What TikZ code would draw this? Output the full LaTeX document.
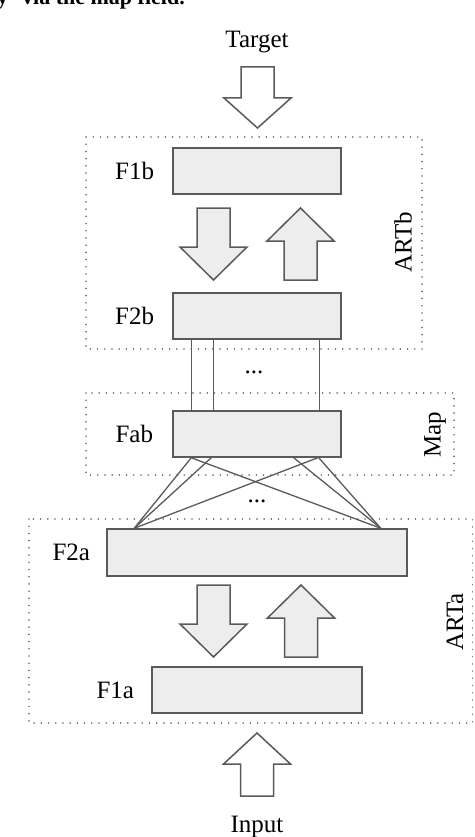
\documentclass[tikz,border=0pt]{standalone}
\usepackage{fontspec}
\setmainfont{Liberation Serif}
\usetikzlibrary{calc}
\definecolor{boxfill}{HTML}{EDEDED}
\definecolor{edgec}{HTML}{5A5A5A}
\definecolor{dotc}{HTML}{6E6E6E}
\newcommand\myblockarrow[5]{%
  \filldraw[blockarr, fill=#5] ({#1-16.5},#2) -- ({#1+16.5},#2) -- ({#1+16.5},#3) -- ({#1+33.5},#3) -- (#1,#4) -- ({#1-33.5},#3) -- ({#1-16.5},#3) -- cycle;}
\begin{document}
\begin{tikzpicture}[x=1pt,y=-1pt,
  layerbox/.style={draw=edgec, line width=1.5pt, fill=boxfill, minimum width=#1, minimum height=46pt, inner sep=0pt},
  lbl/.style={inner sep=0pt, font=\fontsize{25}{30}\selectfont},
  blockarr/.style={draw=edgec, line width=1.5pt, line join=miter},
  dotbox/.style={draw=dotc, line width=1.7pt, line cap=round, dash pattern=on 0.01pt off 7.2pt},
  wire/.style={draw=edgec, line width=1.3pt},
]
\useasboundingbox (0,0) rectangle (474,837);
\begin{scope}
\clip (0,0) rectangle (474,837);
\node[anchor=base west, inner sep=0pt, font=\fontsize{22}{26}\selectfont\bfseries] (capy) at (-3,5) {y};
\node[anchor=base west, inner sep=0pt, font=\fontsize{22}{26}\selectfont\bfseries] (cap) at (22,5) {via the map field.};
\end{scope}

% dotted module boxes
\draw[dotbox] (86,137) rectangle (422,349);
\draw[dotbox] (86,393) rectangle (454,475);
\draw[dotbox] (29,519) rectangle (472.5,723);

% layers
\node[layerbox=168] (f1b) at (257,171) {};
\node[layerbox=168] (f2b) at (257,316) {};
\node[layerbox=168] (fab) at (257,434) {};
\node[layerbox=300, minimum height=47pt] (f2a) at (257,552.5) {};
\node[layerbox=210] (f1a) at (257,690) {};

% layer labels
\node[lbl, anchor=east] (lf1b) at ([xshift=-18pt]f1b.west) {F1b};
\node[lbl, anchor=east] (lf2b) at ([xshift=-18pt]f2b.west) {F2b};
\node[lbl, anchor=east] (lfab) at ([xshift=-19pt]fab.west) {Fab};
\node[lbl, anchor=east] (lf2a) at ([xshift=-16pt]f2a.west) {F2a};
\node[lbl, anchor=east] (lf1a) at ([xshift=-17pt]f1a.west) {F1a};

% module labels
\node[lbl, rotate=90] (lartb) at (403,242) {ARTb};
\node[lbl, rotate=90] (lmap) at (435,435) {Map};
\node[lbl, rotate=90] (larta) at (455,622) {ARTa};

% input / target
\node[lbl, anchor=base] (tgt) at (257,48) {Target};
\node[lbl, anchor=base] (inp) at (257,832) {Input};

% block arrows
\myblockarrow{257.5}{67}{98}{128}{white}
\myblockarrow{213.5}{208}{247}{280}{boxfill}
\myblockarrow{300.5}{280}{241}{208}{boxfill}
\myblockarrow{213.5}{585}{624}{657}{boxfill}
\myblockarrow{301}{657}{618}{585}{boxfill}
\myblockarrow{257}{796}{764}{733}{white}

% F2b -> Fab wires
\draw[wire] ([xshift=19pt]f2b.south west) -- ([xshift=19pt]fab.north west);
\draw[wire] ([xshift=41pt]f2b.south west) -- ([xshift=41pt]fab.north west);
\draw[wire] ([xshift=-22pt]f2b.south east) -- ([xshift=-22pt]fab.north east);
\node[lbl] (dots1) at (254,372) {...};

% Fab -> F2a wires
\coordinate (cl) at ([xshift=28pt]f2a.north west);
\coordinate (cr) at ([xshift=-27pt]f2a.north east);
\draw[wire] (cl) -- ([xshift=19pt]fab.south west);
\draw[wire] (cl) -- ([xshift=39pt]fab.south west);
\draw[wire] (cl) -- ([xshift=-24pt]fab.south east);
\draw[wire] (cr) -- ([xshift=19pt]fab.south west);
\draw[wire] (cr) -- ([xshift=-48pt]fab.south east);
\draw[wire] (cr) -- ([xshift=-23pt]fab.south east);
\node[lbl] (dots2) at (257,501) {...};
\end{tikzpicture}
\end{document}
